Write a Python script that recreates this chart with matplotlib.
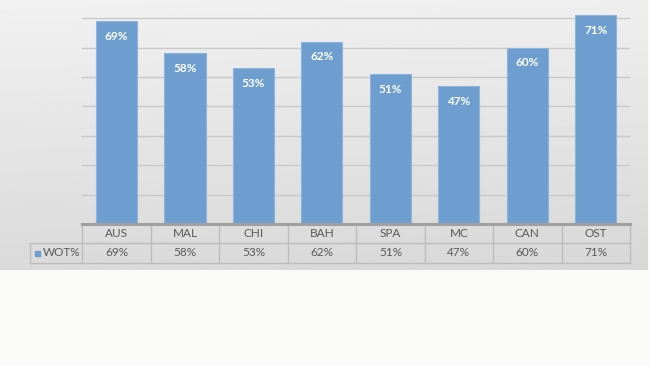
import numpy as np
import matplotlib
matplotlib.use("Agg")
import matplotlib.pyplot as plt
from matplotlib.patches import Rectangle
import matplotlib.transforms as mtransforms

# data
races = ["AUS", "MAL", "CHI", "BAH", "SPA", "MC", "CAN", "OST"]
wot = [0.69, 0.58, 0.53, 0.62, 0.51, 0.47, 0.60, 0.71]
series_name = "WOT%"

bar_color = "#6d9ecf"
text_gray = "#595959"
line_gray = "#c9c9c9"

plt.rcParams["font.family"] = ["Lato", "DejaVu Sans"]

W, H = 650, 366
fig = plt.figure(figsize=(W / 100, H / 100), dpi=100)
fig.patch.set_facecolor("#fafaf8")

# chart background (gradient panel)
bg = fig.add_axes([0, (H - 270) / H, 648 / W, 270 / H], zorder=0)
yy = np.linspace(0, 1, 200)[:, None]
xx = np.linspace(0, 1, 200)[None, :]
grad = 0.945 - 0.09 * yy - 0.01 * xx
bg.imshow(grad, cmap="gray", vmin=0, vmax=1, aspect="auto", extent=[0, 1, 0, 1], origin="upper")
bg.set_axis_off()

# plot area
x0, x1 = 82.3, 630
y_axis = 224
ax = fig.add_axes([x0 / W, (H - y_axis) / H, (x1 - x0) / W, y_axis / H], zorder=1)
ax.patch.set_alpha(0)
px_per_unit = 294
ax.set_ylim(0, y_axis / px_per_unit)
ax.set_xlim(-0.5, len(races) - 0.5)

x = np.arange(len(races))
bars = ax.bar(x, wot, width=0.6, color=bar_color, edgecolor="#8db4db", linewidth=0.8, zorder=3)

for yv in np.arange(0.1, 0.75, 0.1):
    ax.axhline(yv, color=line_gray, lw=1.0, zorder=1)

for xi, v in zip(x, wot):
    ax.annotate(f"{v:.0%}", (xi, v), xytext=(0, -11), textcoords="offset points",
                ha="center", va="center", color="white", fontsize=8.5, fontweight="bold", zorder=4)

ax.set_xticks([])
ax.set_yticks([])
for s in ax.spines.values():
    s.set_visible(False)

# data table under the axis
trans = mtransforms.blended_transform_factory(ax.transData, ax.transAxes)
unit = (x1 - x0) / len(races)
r1 = -(242.7 - y_axis) / y_axis
r2 = -(263.3 - y_axis) / y_axis
left = -0.5 - (x0 - 30) / unit
kw = dict(transform=trans, clip_on=False, color="#bcbcbc", lw=1, zorder=2)
ax.plot([left, len(races) - 0.5], [r1, r1], **kw)
ax.plot([left, len(races) - 0.5], [r2, r2], **kw)
ax.plot([left, left], [r1, r2], **kw)
for k in range(len(races) + 1):
    ax.plot([k - 0.5, k - 0.5], [0, r2], **kw)
ax.plot([-0.5, len(races) - 0.5], [0, 0], transform=trans, clip_on=False,
        color="#a0a0a0", lw=2.2, zorder=5)

for xi, name, v in zip(x, races, wot):
    ax.text(xi, r1 / 2, name, transform=trans, ha="center", va="center",
            fontsize=8.5, color=text_gray)
    ax.text(xi, (r1 + r2) / 2, f"{v:.0%}", transform=trans, ha="center", va="center",
            fontsize=8.5, color=text_gray)

sq = 5 / unit
ax.add_patch(Rectangle((-0.5 - (x0 - 35) / unit, (r1 + r2) / 2 - 2.5 / y_axis), sq, 5 / y_axis,
                       transform=trans, clip_on=False, color=bar_color, zorder=3))
ax.text(-0.5 - (x0 - 43) / unit, (r1 + r2) / 2, series_name, transform=trans,
        ha="left", va="center", fontsize=8.5, color=text_gray)

fig.savefig("out.png", dpi=100, facecolor=fig.get_facecolor())
